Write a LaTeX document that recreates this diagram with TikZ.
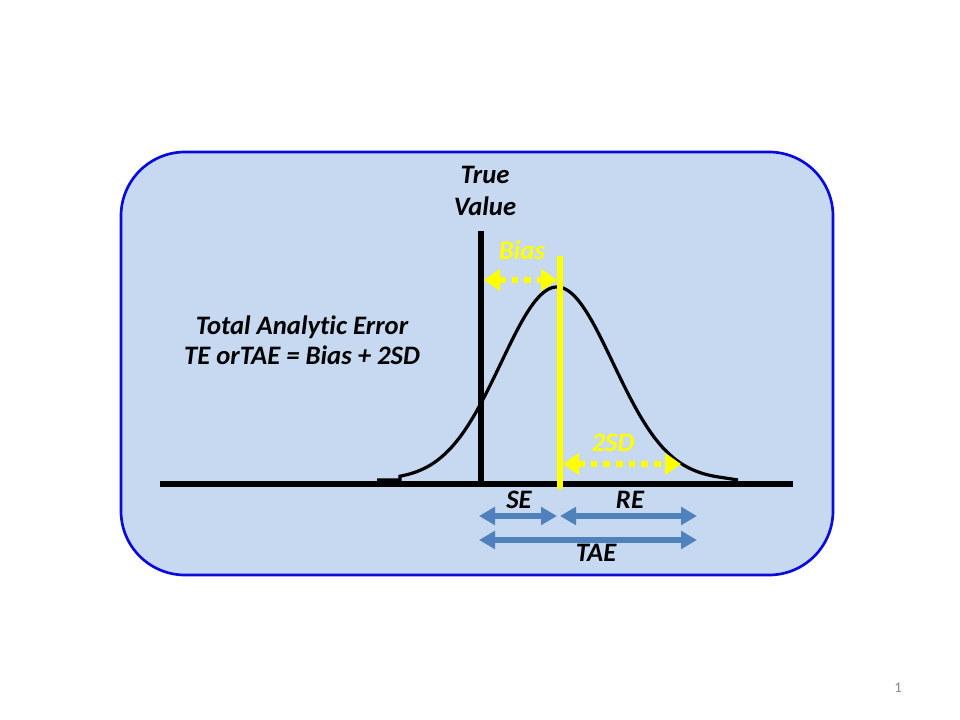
\documentclass[tikz,border=0pt]{standalone}
\usepackage{fontspec}
\setmainfont{Carlito}[Ligatures=NoCommon]
\usepackage{xcolor}
\usetikzlibrary{positioning,arrows.meta,calc}
\definecolor{panelblue}{RGB}{198,217,240}
\definecolor{frameblue}{RGB}{10,10,220}
\definecolor{steelblue}{RGB}{79,129,189}
\definecolor{markyellow}{RGB}{255,255,0}
\definecolor{pagegray}{RGB}{137,137,137}
\tikzset{
  panel-box/.style={draw=frameblue, line width=2pt, fill=panelblue, rounded corners=48pt},
  axis-line/.style={line width=4.5pt, draw=black},
  marker-line/.style={line width=4.5pt, draw=markyellow},
  curve-line/.style={line width=2.4pt, draw=black},
  gap-arrow/.style={{Triangle[width=16pt,length=12pt]}-{Triangle[width=16pt,length=12pt]},
    line width=5pt, draw=markyellow, dash pattern=on 5pt off 4.5pt},
  span-arrow/.style={{Triangle[width=13pt,length=12pt]}-{Triangle[width=13pt,length=12pt]},
    line width=3.8pt, draw=steelblue},
  main-label/.style={font=\fontsize{20}{22.5}\selectfont\bfseries\itshape, align=center, text=black},
  gap-label/.style={font=\fontsize{20}{22.5}\selectfont\bfseries\itshape, text=markyellow}
}
\begin{document}
\begin{tikzpicture}[x=0.75pt,y=-0.75pt]
\useasboundingbox (0,0) rectangle (960,720);
\draw[panel-box] (121,152) rectangle (833,575);
% the bell curve
\draw[curve-line] (377,480) -- (400,480)
  -- plot[domain=400:716, samples=120, smooth] (\x,{480-193*exp(-0.5*((\x-557)/56)^2)})
  -- (738,480);
% axis and reference lines
\coordinate (axisL) at (160,484);
\coordinate (axisR) at (793,484);
\draw[axis-line] (axisL) -- (axisR);
\coordinate (trueTop) at (481,231);
\coordinate (trueBot) at (481,484);
\draw[axis-line] (trueTop) -- (trueBot);
\coordinate (meanTop) at (560,256);
\coordinate (meanBot) at (560,489);
\draw[marker-line] (meanTop) -- (meanBot);
% bias and 2SD
\coordinate (biasL) at (484,280);
\coordinate (biasR) at (557,280);
\draw[gap-arrow] (biasL) -- (biasR);
\node[gap-label] (biasLbl) at (522,250) {Bias};
\coordinate (sdL) at (563,464);
\coordinate (sdR) at (681,464);
\draw[gap-arrow] (sdL) -- (sdR);
\node[gap-label] (sdLbl) at (613,443) {2SD};
% error spans
\coordinate (seL) at (479,516);
\coordinate (seR) at (557,516);
\coordinate (reL) at (560,516);
\coordinate (reR) at (697,516);
\coordinate (taeL) at (479,540);
\coordinate (taeR) at (697,540);
\draw[span-arrow] (seL) -- (seR);
\draw[span-arrow] (reL) -- (reR);
\draw[span-arrow] (taeL) -- (taeR);
\node[main-label] (seLbl) at (519,500) {SE};
\node[main-label] (reLbl) at (630,500) {RE};
\node[main-label] (taeLbl) at (596,553) {TAE};
% texts
\node[main-label, font=\fontsize{20}{24}\selectfont\bfseries\itshape] (trueLbl) at (485,191) {True\\Value};
\node[main-label] (formula) at (302,340) {Total Analytic Error\\TE orTAE = Bias + 2SD};
\node[font=\fontsize{11}{13}\selectfont, text=pagegray] (pageNo) at (898,688) {1};
\end{tikzpicture}
\end{document}
